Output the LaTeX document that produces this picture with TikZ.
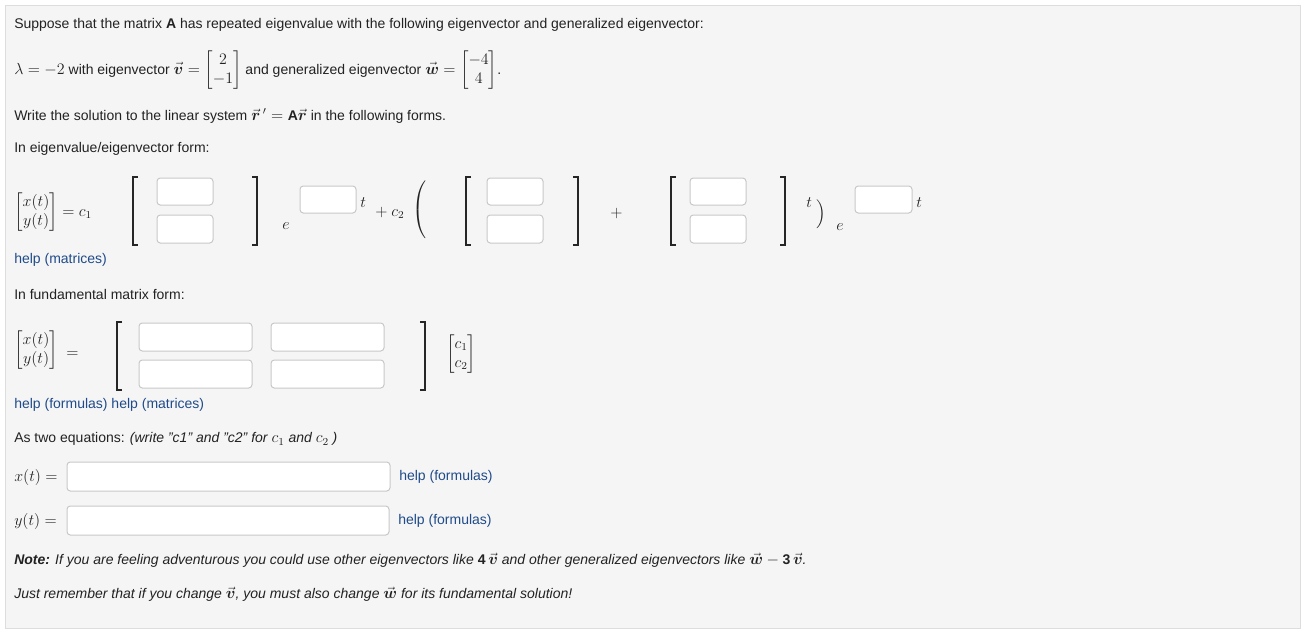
\documentclass[tikz,border=0pt]{standalone}
\usepackage{amsmath,amssymb}
\usepackage{fontspec}
\setmainfont{Liberation Sans}[Scale=0.875]
\definecolor{bgc}{HTML}{F5F5F5}
\definecolor{bdc}{HTML}{DDDDDD}
\definecolor{boxc}{HTML}{C8C8C8}
\definecolor{linkc}{HTML}{1F4B8A}
\definecolor{txt}{HTML}{222222}
\newcommand{\vv}[1]{\vec{\boldsymbol{#1}}}
\begin{document}
\begin{tikzpicture}[x=0.75pt,y=-0.75pt,
  txtnode/.style={anchor=west,inner sep=0pt,text=txt,font=\fontsize{12}{14}\selectfont},
  link/.style={txtnode,text=linkc},
  inbox/.style={draw=boxc,fill=white,rounded corners=2.5pt,line width=0.75pt},
  brk/.style={line width=1pt,draw=black!85}]
\useasboundingbox (0,0) rectangle (1306,636);
\fill[bgc,draw=bdc] (5,5) rectangle (1300,628);
\node[txtnode] (t1) at (14,25) {Suppose that the matrix $\mathbf{A}$ has repeated eigenvalue with the following eigenvector and generalized eigenvector:};
\node[txtnode] (t2) at (14,70) {$\lambda=-2$ with eigenvector $\vv{v}=\begin{bmatrix}2\\-1\end{bmatrix}$ and generalized eigenvector $\vv{w}=\begin{bmatrix}-4\\4\end{bmatrix}$.};
\node[txtnode] (t3) at (14,116) {Write the solution to the linear system $\vv{r}\,'=\mathbf{A}\vv{r}$ in the following forms.};
\node[txtnode] (t4) at (14,149) {In eigenvalue/eigenvector form:};
% eigen form
\node[txtnode] (xy1) at (14,212) {$\begin{bmatrix}x(t)\\y(t)\end{bmatrix}=c_1$};
\foreach \n/\x/\y/\w/\h in {a1/157/178/56/27,a2/157/215/56/28,e1/300/186/56/27,b1/487/178/56/27,b2/487/215/56/28,d1/690/178/56/27,d2/690/215/56/28,e2/855/186/57/27}
  \draw[inbox] (\x,\y) rectangle ++(\w,\h) node[pos=0.5] (\n) {};
\foreach \l/\r in {133/257,466/578,671/785}{
  \draw[brk] (\l+5,177) -- (\l,177) -- (\l,245) -- (\l+5,245);
  \draw[brk] (\r-5,177) -- (\r,177) -- (\r,245) -- (\r-5,245);}
\node[txtnode] (ee1) at (282,226) {$e$};
\node[txtnode] (tt1) at (360,203) {$t$};
\node[txtnode] (pc2) at (375,213) {$+\ c_2$};
\node[txtnode] (lp) at (412,210) {$\left(\rule{0pt}{24pt}\right.$};
\node[txtnode] (pl) at (610,213) {$+$};
\node[txtnode] (tt2) at (806,203) {$t$};
\node[txtnode] (rp) at (815,214) {$\left.\rule{0pt}{14pt}\right)$};
\node[txtnode] (ee2) at (836,227) {$e$};
\node[txtnode] (tt3) at (916,203) {$t$};
\node[link] (h1) at (14,260) {help (matrices)};
\node[txtnode] (t5) at (14,294) {In fundamental matrix form:};
% fundamental
\node[txtnode] (xy2) at (14,350) {$\begin{bmatrix}x(t)\\y(t)\end{bmatrix}$};
\node[txtnode] (eq2) at (66,355) {$=$};
\foreach \n/\x/\y in {f1/139/323,f2/271/323,f3/139/360,f4/271/360}
  \draw[inbox] (\x,\y) rectangle ++(113,28) node[pos=0.5] (\n) {};
\draw[brk] (122,322) -- (117,322) -- (117,390) -- (122,390);
\draw[brk] (420,322) -- (425,322) -- (425,390) -- (420,390);
\node[txtnode] (cc) at (446,354) {$\begin{bmatrix}c_1\\c_2\end{bmatrix}$};
\node[link] (h2) at (14,405) {help (formulas) help (matrices)};
\node[txtnode] (t6) at (14,439) {As two equations: \textit{(write "c1" and "c2" for $c_1$ and $c_2$ )}};
\node[txtnode] (xe) at (14,477) {$x(t)=$};
\draw[inbox] (67,462) rectangle (390,491) node[pos=0.5] (g1) {};
\node[link] (h3) at (399,477) {help (formulas)};
\node[txtnode] (ye) at (14,521) {$y(t)=$};
\draw[inbox] (67,506) rectangle (389,535) node[pos=0.5] (g2) {};
\node[link] (h4) at (398,521) {help (formulas)};
\node[txtnode] (t7) at (14,560) {\itshape\textbf{Note:} If you are feeling adventurous you could use other eigenvectors like $\mathbf{4}\,\vv{v}$ and other generalized eigenvectors like $\vv{w}-\mathbf{3}\,\vv{v}$.};
\node[txtnode] (t8) at (14,594) {\itshape Just remember that if you change $\vv{v}$, you must also change $\vv{w}$ for its fundamental solution!};
\end{tikzpicture}
\end{document}
